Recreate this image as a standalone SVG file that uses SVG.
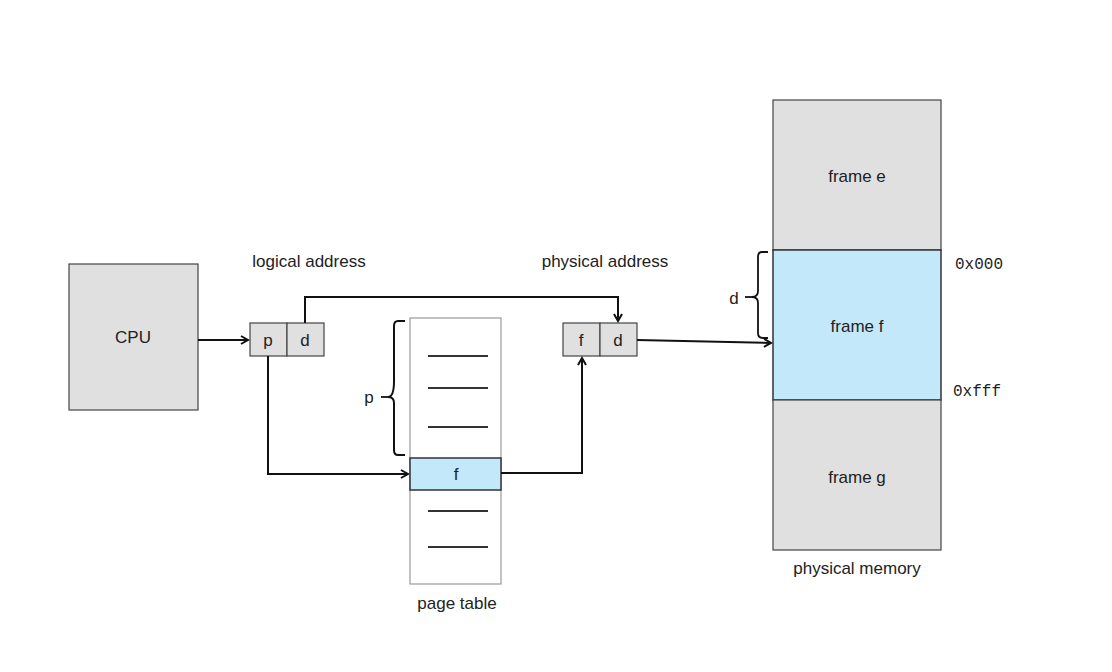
<svg xmlns="http://www.w3.org/2000/svg" width="1112" height="672" viewBox="0 0 1112 672">
<style>
text{font-family:"Liberation Sans",Arial,sans-serif;font-size:17px;fill:#222;text-anchor:middle}
.m{font-family:"Liberation Mono",monospace;font-size:16px;text-anchor:start}
.g{fill:#e0e0e0;stroke:#444;stroke-width:1.2}
.b{fill:#c2e8fa;stroke:#333;stroke-width:1.5}
.c{fill:none;stroke:#111;stroke-width:2}
.l{stroke:#333;stroke-width:2}
</style>
<defs><marker id="a" markerWidth="10" markerHeight="10" refX="8" refY="5" orient="auto" markerUnits="userSpaceOnUse"><path d="M1,1 L8,5 L1,9" fill="none" stroke="#111" stroke-width="2"/></marker></defs>
<rect width="1112" height="672" fill="#fff"/>
<g id="cpu"><rect class="g" x="69" y="264" width="129" height="146"/><text x="133" y="343">CPU</text></g>
<g id="logical"><rect class="g" x="250" y="323" width="37" height="33"/><rect class="g" x="287" y="323" width="37" height="33"/><text x="268" y="346">p</text><text x="305" y="346">d</text><text x="309" y="267">logical address</text></g>
<g id="physaddr"><rect class="g" x="563" y="323" width="37" height="33"/><rect class="g" x="600" y="323" width="37" height="33"/><text x="581" y="346">f</text><text x="618" y="346">d</text><text x="605" y="267">physical address</text></g>
<g id="pagetable"><rect x="410" y="318" width="91" height="266" fill="#fff" stroke="#999" stroke-width="1.2"/>
<line class="l" x1="428" y1="356" x2="488" y2="356"/><line class="l" x1="428" y1="388" x2="488" y2="388"/><line class="l" x1="428" y1="427" x2="488" y2="427"/><line class="l" x1="428" y1="511" x2="488" y2="511"/><line class="l" x1="428" y1="547" x2="488" y2="547"/>
<rect class="b" x="410" y="458" width="91" height="32"/><text x="456" y="480">f</text>
<path class="c" d="M405,321 H398 Q394,321 394,326 V381 Q394,397 388,397 Q394,397 394,403 V450 Q394,455 398,455 H405" stroke-width="1.8"/><line x1="381" y1="397" x2="388" y2="397" stroke="#111" stroke-width="1.8"/>
<text x="369" y="403">p</text><text x="457" y="609">page table</text></g>
<g id="memory"><rect class="g" x="773" y="100" width="168" height="150"/><rect class="b" x="773" y="250" width="168" height="150"/><rect class="g" x="773" y="400" width="168" height="150"/>
<text x="857" y="182">frame e</text><text x="857" y="332">frame f</text><text x="857" y="483">frame g</text><text x="857" y="574">physical memory</text>
<text class="m" x="955" y="269">0x000</text><text class="m" x="953" y="396">0xfff</text>
<path d="M768,252 H762 Q758,252 758,257 V291 Q758,297 752,297 Q758,297 758,303 V333 Q758,338 763,338 H768" fill="none" stroke="#111" stroke-width="1.8"/><line x1="745" y1="297" x2="752" y2="297" stroke="#111" stroke-width="1.8"/>
<text x="734" y="304">d</text></g>
<g id="connectors">
<path class="c" d="M198,340 H248" marker-end="url(#a)"/>
<path class="c" d="M305,323 V297 H618 V321" marker-end="url(#a)"/>
<path class="c" d="M268,356 V474 H408" marker-end="url(#a)"/>
<path class="c" d="M501,473 H582 V358" marker-end="url(#a)"/>
<path class="c" d="M637,340 L771,343" marker-end="url(#a)"/>
</g>
</svg>
